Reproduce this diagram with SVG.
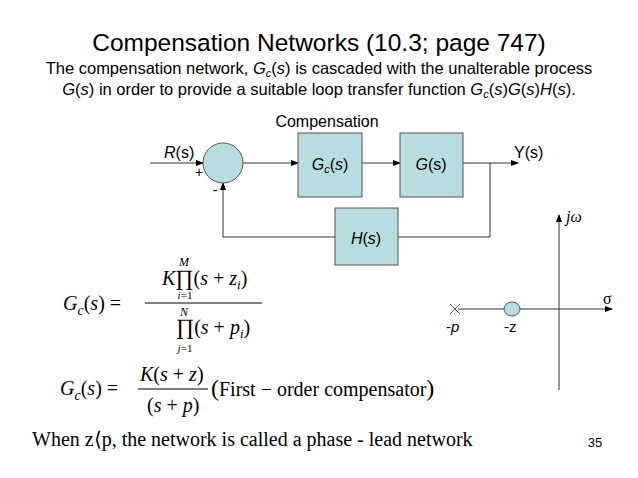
<svg xmlns="http://www.w3.org/2000/svg" width="638" height="478" viewBox="0 0 638 478">
<style>
.s{font-family:"Liberation Sans",Arial,sans-serif;fill:#000}
.m{font-family:"Liberation Serif","Times New Roman",serif;fill:#000}
.b{fill:#b8dde0;stroke:#555;stroke-width:1}
.l{stroke:#333;stroke-width:1;fill:none}
</style>
<defs><marker id="a" markerWidth="8" markerHeight="6" refX="7" refY="3" orient="auto" markerUnits="userSpaceOnUse"><path d="M0,0L8,3L0,6z" fill="#000"/></marker></defs>
<rect width="638" height="478" fill="#fff"/>
<text class="s" x="319" y="51" font-size="24.5" text-anchor="middle">Compensation Networks (10.3; page 747)</text>
<text class="s" x="319" y="74" font-size="16.5" text-anchor="middle">The compensation network, <tspan font-style="italic">G</tspan><tspan font-style="italic" font-size="11" dy="3">c</tspan><tspan dy="-3">(</tspan><tspan font-style="italic">s</tspan>) is cascaded with the unalterable process</text>
<text class="s" x="319" y="95" font-size="16.5" text-anchor="middle"><tspan font-style="italic">G</tspan>(<tspan font-style="italic">s</tspan>) in order to provide a suitable loop transfer function <tspan font-style="italic">G</tspan><tspan font-style="italic" font-size="11" dy="3">c</tspan><tspan dy="-3">(</tspan><tspan font-style="italic">s</tspan>)<tspan font-style="italic">G</tspan>(<tspan font-style="italic">s</tspan>)<tspan font-style="italic">H</tspan>(<tspan font-style="italic">s</tspan>).</text>
<g id="connectors">
<line class="l" x1="150" y1="163" x2="203" y2="163" marker-end="url(#a)"/>
<line class="l" x1="243" y1="163" x2="298" y2="163" marker-end="url(#a)"/>
<line class="l" x1="362" y1="163" x2="400" y2="163" marker-end="url(#a)"/>
<line class="l" x1="463" y1="163" x2="518" y2="163" marker-end="url(#a)"/>
<polyline class="l" points="490,163 490,237 398,237"/>
<polyline class="l" points="335,237 223,237 223,183" marker-end="url(#a)"/>
</g>
<g id="sum"><circle class="b" cx="223" cy="163" r="20"/>
<text class="s" x="199" y="177" font-size="14" text-anchor="middle">+</text>
<text class="s" x="215" y="195" font-size="15" text-anchor="middle">-</text></g>
<g id="gc"><rect class="b" x="298" y="133" width="64" height="64"/>
<text class="s" x="330" y="170" font-size="16" text-anchor="middle"><tspan font-style="italic">G</tspan><tspan font-style="italic" font-size="11" dy="3">c</tspan><tspan dy="-3">(</tspan><tspan font-style="italic">s</tspan>)</text></g>
<g id="g"><rect class="b" x="400" y="133" width="63" height="64"/>
<text class="s" x="431" y="170" font-size="16" text-anchor="middle"><tspan font-style="italic">G</tspan>(s)</text></g>
<g id="h"><rect class="b" x="335" y="208" width="63" height="57"/>
<text class="s" x="366" y="244" font-size="16" text-anchor="middle"><tspan font-style="italic">H</tspan>(<tspan font-style="italic">s</tspan>)</text></g>
<text class="s" x="327" y="127" font-size="16" text-anchor="middle">Compensation</text>
<text class="s" x="164" y="158" font-size="16"><tspan font-style="italic">R</tspan>(s)</text>
<text class="s" x="514" y="158" font-size="16">Y(s)</text>
<g id="plane">
<line class="l" x1="559" y1="390" x2="559" y2="215" marker-end="url(#a)"/>
<line class="l" x1="458" y1="309" x2="612" y2="309" marker-end="url(#a)"/>
<path d="M450,304L460,314M450,314L460,304" stroke="#555" stroke-width="1"/>
<ellipse class="b" cx="512" cy="309" rx="8" ry="7"/>
<text class="m" x="566" y="222" font-size="16" font-style="italic">jω</text>
<text class="m" x="603" y="304" font-size="16">σ</text>
<text class="s" x="446" y="332" font-size="15">-<tspan font-style="italic">p</tspan></text>
<text class="s" x="504" y="332" font-size="15">-z</text>
</g>
<g class="m" font-size="20">
<text x="63" y="310" font-style="italic">G<tspan font-size="14" dy="5">c</tspan><tspan font-style="normal" dy="-5">(</tspan>s<tspan font-style="normal">) =</tspan></text>
<line x1="145" y1="303" x2="262" y2="303" stroke="#000" stroke-width="1"/>
<text x="162" y="285"><tspan font-style="italic">K</tspan><tspan font-size="22">∏</tspan>(<tspan font-style="italic">s</tspan> + <tspan font-style="italic">z</tspan><tspan font-style="italic" font-size="13" dy="4">i</tspan><tspan dy="-4">)</tspan></text>
<text x="184" y="266" font-size="12" font-style="italic" text-anchor="middle">M</text>
<text x="185" y="299" font-size="11" text-anchor="middle"><tspan font-style="italic">i</tspan>=1</text>
<text x="176" y="334"><tspan font-size="22">∏</tspan>(<tspan font-style="italic">s</tspan> + <tspan font-style="italic">p</tspan><tspan font-style="italic" font-size="13" dy="4">i</tspan><tspan dy="-4">)</tspan></text>
<text x="184" y="316" font-size="12" font-style="italic" text-anchor="middle">N</text>
<text x="185" y="352" font-size="11" text-anchor="middle"><tspan font-style="italic">j</tspan>=1</text>
<text x="60" y="395" font-style="italic">G<tspan font-size="14" dy="5">c</tspan><tspan font-style="normal" dy="-5">(</tspan>s<tspan font-style="normal">) =</tspan></text>
<line x1="138" y1="389" x2="208" y2="389" stroke="#000" stroke-width="1"/>
<text x="140" y="381"><tspan font-style="italic">K</tspan>(<tspan font-style="italic">s</tspan> + <tspan font-style="italic">z</tspan>)</text>
<text x="147" y="412">(<tspan font-style="italic">s</tspan> + <tspan font-style="italic">p</tspan>)</text>
<text x="211" y="396"><tspan font-size="24">(</tspan>First − order compensator<tspan font-size="24">)</tspan></text>
<text x="32" y="446">When z⟨p, the network is called a phase - lead network</text>
</g>
<text class="s" x="595" y="447" font-size="13" text-anchor="middle">35</text>
</svg>
